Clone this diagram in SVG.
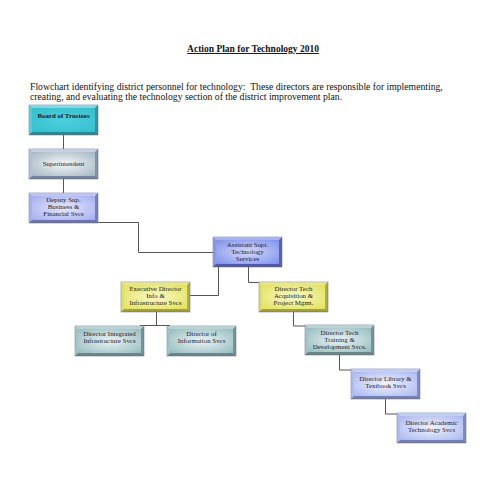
<svg xmlns="http://www.w3.org/2000/svg" xmlns:xlink="http://www.w3.org/1999/xlink" width="495" height="495" viewBox="0 0 495 495">
<style>
.t{font-family:"Liberation Serif","Times New Roman",serif;fill:#111;white-space:pre}
.bx{font-family:"Liberation Serif","Times New Roman",serif;font-size:6.9px;fill:#1a1a2a;text-anchor:middle}
.conn{fill:none;stroke:#555;stroke-width:1}
.frame{stroke:#7a8090;stroke-width:0.6}
</style>
<defs>
<radialGradient id="gCyan" cx="50%" cy="50%" r="70%"><stop offset="0" stop-color="#4cd0dc"/><stop offset="1" stop-color="#34bfcf"/></radialGradient>
<radialGradient id="gGray" cx="50%" cy="50%" r="70%"><stop offset="0" stop-color="#f4f8fa"/><stop offset="1" stop-color="#a4b6c2"/></radialGradient>
<radialGradient id="gPeri" cx="50%" cy="50%" r="70%"><stop offset="0" stop-color="#e4e8fc"/><stop offset="1" stop-color="#a4aeee"/></radialGradient>
<radialGradient id="gBlue" cx="50%" cy="50%" r="70%"><stop offset="0" stop-color="#d4dafc"/><stop offset="1" stop-color="#7e90ea"/></radialGradient>
<radialGradient id="gYel" cx="50%" cy="50%" r="70%"><stop offset="0" stop-color="#f8f8c8"/><stop offset="1" stop-color="#e2e25a"/></radialGradient>
<radialGradient id="gTeal" cx="50%" cy="50%" r="70%"><stop offset="0" stop-color="#eaf4f4"/><stop offset="1" stop-color="#96bcbe"/></radialGradient>
<radialGradient id="gLb" cx="50%" cy="50%" r="70%"><stop offset="0" stop-color="#f0f2fd"/><stop offset="1" stop-color="#aab8f0"/></radialGradient>
<g id="bevel">
<polygon points="0,0 69,0 66,3 3,3" fill="#fff" fill-opacity="0.45"/>
<polygon points="0,0 3,3 3,27 0,30" fill="#fff" fill-opacity="0.25"/>
<polygon points="0,30 3,27 66,27 69,30" fill="#000" fill-opacity="0.22"/>
<polygon points="69,0 66,3 66,27 69,30" fill="#000" fill-opacity="0.15"/>
</g>
</defs>
<rect width="495" height="495" fill="#fff"/>
<text class="t" x="253" y="52" font-size="9.5" font-weight="bold" text-anchor="middle" text-decoration="underline">Action Plan for Technology 2010</text>
<text class="t" font-size="9.7" xml:space="preserve"><tspan x="30" y="90">Flowchart identifying district personnel for technology:  These directors are responsible for implementing,</tspan><tspan x="30" y="99.5">creating, and evaluating the technology section of the district improvement plan.</tspan></text>
<g id="connectors">
<path class="conn" d="M63.5 134 V149"/>
<path class="conn" d="M63.5 178 V193"/>
<path class="conn" d="M98 222.5 H138.5 V252.5 H213"/>
<path class="conn" d="M218.5 267 V295.5 H190"/>
<path class="conn" d="M248.5 267 V282.5 H259"/>
<path class="conn" d="M156.5 311 V325.5"/>
<path class="conn" d="M140 325.5 H170"/>
<path class="conn" d="M293.5 311 V326 H305"/>
<path class="conn" d="M339.5 355 V370 H351"/>
<path class="conn" d="M385.5 399 V414 H397"/>
</g>
<g id="n-board" transform="translate(29,105)"><rect class="frame" width="69" height="30" fill="#2cb4c4"/><rect x="3" y="3" width="63" height="24" fill="url(#gCyan)"/><use xlink:href="#bevel"/><text class="bx" x="34.5" y="12.5" font-weight="bold">Board of Trustees</text></g>
<g id="n-super" transform="translate(29,149)"><rect class="frame" width="69" height="30" fill="#98a8d0"/><rect x="3" y="3" width="63" height="24" fill="url(#gGray)"/><use xlink:href="#bevel"/><text class="bx" x="34.5" y="17">Superintendent</text></g>
<g id="n-deputy" transform="translate(29,193)"><rect class="frame" width="69" height="30" fill="#8a94e4"/><rect x="3" y="3" width="63" height="24" fill="url(#gPeri)"/><use xlink:href="#bevel"/><text class="bx"><tspan x="34.5" y="9.3">Deputy Sup.</tspan><tspan x="34.5" y="16.3">Business &amp;</tspan><tspan x="34.5" y="23.3">Financial Svcs</tspan></text></g>
<g id="n-asst" transform="translate(213,237)"><rect class="frame" width="69" height="30" fill="#6474dc"/><rect x="3" y="3" width="63" height="24" fill="url(#gBlue)"/><use xlink:href="#bevel"/><text class="bx"><tspan x="34.5" y="9.8">Assistant Supt.</tspan><tspan x="34.5" y="16.8">Technology</tspan><tspan x="34.5" y="23.8">Services</tspan></text></g>
<g id="n-exec" transform="translate(121,282)"><rect class="frame" width="69" height="30" fill="#d0d040"/><rect x="3" y="3" width="63" height="24" fill="url(#gYel)"/><use xlink:href="#bevel"/><text class="bx"><tspan x="34.5" y="9.3">Executive Director</tspan><tspan x="34.5" y="16.3">Info &amp;</tspan><tspan x="34.5" y="23.3">Infrastructure Svcs</tspan></text></g>
<g id="n-acq" transform="translate(259,282)"><rect class="frame" width="69" height="30" fill="#d0d040"/><rect x="3" y="3" width="63" height="24" fill="url(#gYel)"/><use xlink:href="#bevel"/><text class="bx"><tspan x="34.5" y="9.3">Director Tech</tspan><tspan x="34.5" y="16.3">Acquisition &amp;</tspan><tspan x="34.5" y="23.3">Project Mgmt.</tspan></text></g>
<g id="n-integrated" transform="translate(75,326)"><rect class="frame" width="69" height="30" fill="#84aeb2"/><rect x="3" y="3" width="63" height="24" fill="url(#gTeal)"/><use xlink:href="#bevel"/><text class="bx"><tspan x="34.5" y="10">Director Integrated</tspan><tspan x="34.5" y="17">Infrastructure Svcs</tspan></text></g>
<g id="n-info" transform="translate(167,326)"><rect class="frame" width="69" height="30" fill="#84aeb2"/><rect x="3" y="3" width="63" height="24" fill="url(#gTeal)"/><use xlink:href="#bevel"/><text class="bx"><tspan x="34.5" y="10">Director of</tspan><tspan x="34.5" y="17">Information Svcs</tspan></text></g>
<g id="n-training" transform="translate(305,325)"><rect class="frame" width="69" height="30" fill="#84aeb2"/><rect x="3" y="3" width="63" height="24" fill="url(#gTeal)"/><use xlink:href="#bevel"/><text class="bx"><tspan x="34.5" y="9.8">Director Tech</tspan><tspan x="34.5" y="16.8">Training &amp;</tspan><tspan x="34.5" y="23.8">Development Svcs.</tspan></text></g>
<g id="n-library" transform="translate(351,369)"><rect class="frame" width="69" height="30" fill="#94a4ea"/><rect x="3" y="3" width="63" height="24" fill="url(#gLb)"/><use xlink:href="#bevel"/><text class="bx"><tspan x="34.5" y="11.5">Director Library &amp;</tspan><tspan x="34.5" y="18.5">Textbook Svcs</tspan></text></g>
<g id="n-academic" transform="translate(397,413)"><rect class="frame" width="69" height="30" fill="#94a4ea"/><rect x="3" y="3" width="63" height="24" fill="url(#gLb)"/><use xlink:href="#bevel"/><text class="bx"><tspan x="34.5" y="11.5">Director Academic</tspan><tspan x="34.5" y="18.5">Technology Svcs</tspan></text></g>
</svg>
